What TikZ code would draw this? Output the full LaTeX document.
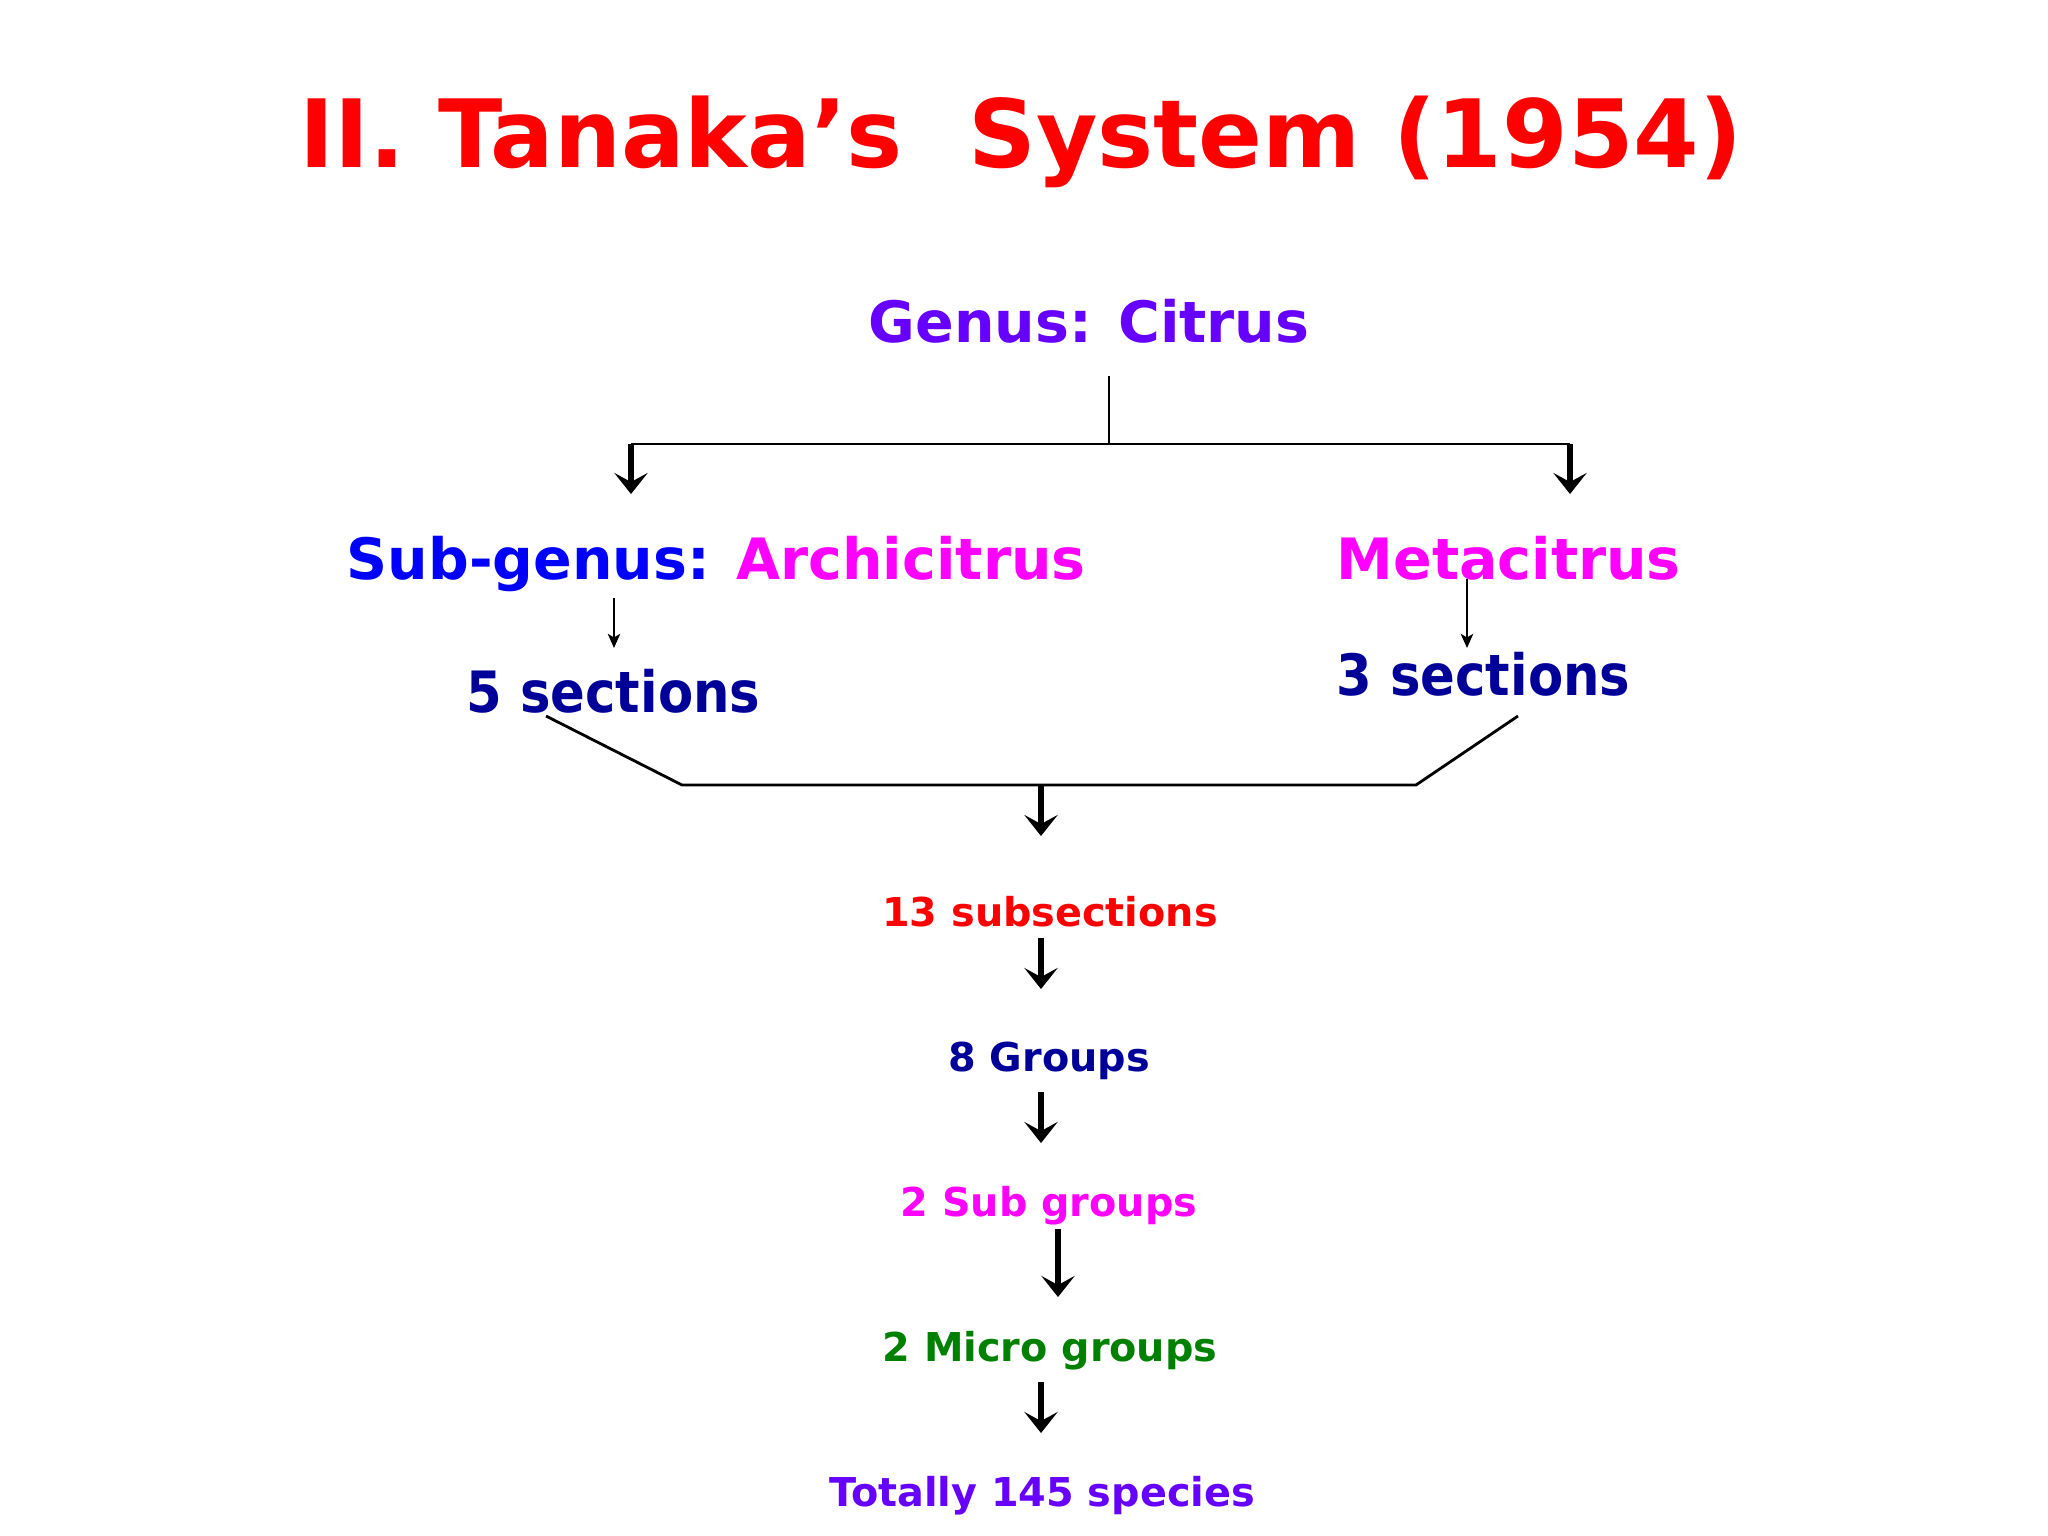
\documentclass[tikz,border=0pt]{standalone}
\usepackage{fontspec}
\setmainfont{DejaVu Sans}
\usetikzlibrary{arrows.meta}
\definecolor{tred}{RGB}{255,0,0}
\definecolor{tpurple}{RGB}{102,0,255}
\definecolor{tblue}{RGB}{0,0,255}
\definecolor{tmag}{RGB}{255,0,255}
\definecolor{tnavy}{RGB}{0,0,153}
\definecolor{tgreen}{RGB}{0,128,0}
\begin{document}
\begin{tikzpicture}[x=0.01cm,y=-0.01cm,
  lbl/.style={inner sep=0pt, font=\bfseries},
  big/.style={lbl, font=\fontsize{16.2}{20}\selectfont\bfseries},
  small/.style={lbl, font=\fontsize{11.3}{14}\selectfont\bfseries},
  thinline/.style={line width=0.8pt},
  fatarrow/.style={line width=1.6pt, -{Stealth[length=6pt,width=9.5pt,inset=2.6pt]}},
  slimarrow/.style={line width=0.7pt, -{Stealth[length=4pt,width=3.5pt,inset=1pt]}}]
\useasboundingbox (0,0) rectangle (2048,1536);
% texts
\node[lbl, font=\fontsize{26.8}{32}\selectfont\bfseries, text=tred, anchor=base] (title) at (1021,167) {II. Tanaka’s\ \ System (1954)};
\node[big, text=tpurple, anchor=base] (genus) at (1089,342) {Genus: Citrus};
\node[big, anchor=base west] (sub) at (346,579) {\textcolor{tblue}{Sub-genus:} \textcolor{tmag}{Archicitrus}};
\node[big, text=tmag, anchor=base west] (meta) at (1336,579) {Metacitrus};
\node[big, text=tnavy, anchor=base west] (five) at (466,712) {\scalebox{0.9}[1]{5 sections}};
\node[big, text=tnavy, anchor=base west] (three) at (1336,695) {\scalebox{0.9}[1]{3 sections}};
\node[small, text=tred, anchor=base] (subsec) at (1050,926) {13 subsections};
\node[small, text=tnavy, anchor=base] (groups) at (1049,1071) {8 Groups};
\node[small, text=tmag, anchor=base] (subg) at (1049,1216) {2 Sub groups};
\node[small, text=tgreen, anchor=base] (micro) at (1050,1361) {2 Micro groups};
\node[small, text=tpurple, anchor=base] (total) at (1042,1506) {Totally 145 species};
% junction coordinates
\coordinate (gtop) at (1109,376);
\coordinate (gj) at (1109,444);
\coordinate (bl) at (631,444);
\coordinate (br) at (1570,444);
\coordinate (blend) at (631,494);
\coordinate (brend) at (1570,494);
\coordinate (stop) at (614,598);
\coordinate (send) at (614,648);
\coordinate (mtop) at (1467,579);
\coordinate (mend) at (1467,648);
\coordinate (fl) at (546,716);
\coordinate (fk) at (682,785);
\coordinate (tk) at (1416,785);
\coordinate (tr) at (1518,716);
\coordinate (mj) at (1041,785);
\coordinate (mjend) at (1041,836);
% connectors
\draw[thinline] (gtop) -- (gj);
\draw[thinline] (bl) -- (br);
\draw[fatarrow] (bl) -- (blend);
\draw[fatarrow] (br) -- (brend);
\draw[slimarrow] (stop) -- (send);
\draw[slimarrow] (mtop) -- (mend);
\draw[thinline] (fl) -- (fk) -- (tk) -- (tr);
\draw[fatarrow] (mj) -- (mjend);
\coordinate (a1s) at (1041,938); \coordinate (a1e) at (1041,989);
\coordinate (a2s) at (1041,1092); \coordinate (a2e) at (1041,1143);
\coordinate (a3s) at (1058,1229); \coordinate (a3e) at (1058,1297);
\coordinate (a4s) at (1041,1382); \coordinate (a4e) at (1041,1433);
\draw[fatarrow] (a1s) -- (a1e);
\draw[fatarrow] (a2s) -- (a2e);
\draw[fatarrow] (a3s) -- (a3e);
\draw[fatarrow] (a4s) -- (a4e);
\end{tikzpicture}
\end{document}
